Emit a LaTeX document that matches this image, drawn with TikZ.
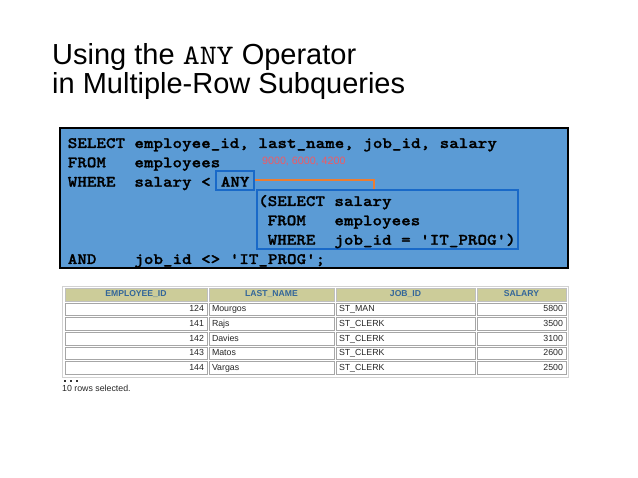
\documentclass[tikz,border=0pt]{standalone}
\usepackage{fontspec}
\setmainfont{Liberation Sans}
\newfontfamily\codefont{lmmono10-regular.otf}[FakeStretch=1.143,BoldFont=lmmonolt10-bold.otf,
    BoldFeatures={FakeBold=1.2}]
\usepackage{xcolor}
\usetikzlibrary{positioning}

\definecolor{boxblue}{RGB}{91,155,213}
\definecolor{linkblue}{RGB}{25,105,200}
\definecolor{linkorange}{RGB}{237,125,49}
\definecolor{listred}{RGB}{240,90,100}
\definecolor{headkhaki}{RGB}{204,204,153}
\definecolor{headblue}{RGB}{51,102,153}

\begin{document}
\begin{tikzpicture}[x=1pt,y=-1pt,
    title/.style={anchor=base west,inner sep=0pt,font=\fontsize{29}{34}\selectfont},
    code/.style={anchor=base west,inner sep=0pt,font=\codefont\bfseries\fontsize{15.9}{19}\selectfont},
    subbox/.style={draw=linkblue,line width=1.8pt,inner sep=0pt},
    link/.style={draw=linkorange,line width=2pt},
    cell/.style={draw=gray!70,fill=white,inner xsep=3pt,inner ysep=0pt,minimum height=12.7pt,
        text height=6.5pt,text depth=1.5pt,font=\fontsize{8.8}{10}\selectfont,text=black!85},
    headcell/.style={cell,fill=headkhaki,draw=gray!50,minimum height=13pt,
        font=\bfseries\fontsize{8.6}{10}\selectfont,text=headblue}]

    \useasboundingbox (0,0) rectangle (638,478);

    \node[title] (t1) at (52,65) {Using the {\codefont\fontsize{28.3}{34}\selectfont ANY} Operator};
    \node[title] (t2) at (52,93.5) {in Multiple-Row Subqueries};

    % query box
    \draw[fill=boxblue,draw=black,line width=2pt] (60,128.5) rectangle (568,268);
    \node[subbox,minimum width=261,minimum height=59] (subq) at (387.5,219.5) {};

    \node[code] (k1) at (67.6,148) {SELECT};
    \node[code] (c1) at (134.2,148) {employee\_id, last\_name, job\_id, salary};
    \node[code] (k2) at (67.6,167.3) {FROM};
    \node[code] (c2) at (134.2,167.3) {employees};
    \node[code] (k3) at (67.6,186.7) {WHERE};
    \node[code] (c3) at (134.2,186.7) {salary <};
    \node[code,draw=linkblue,line width=1.8pt,inner xsep=4.5pt,inner ysep=3pt,
        text height=13pt,text depth=0pt] (any) at (215.4,186.7) {ANY};
    \node[code] (s1) at (258,206) {(SELECT};
    \node[code] (s1b) at (334.2,206) {salary};
    \node[code] (s2) at (267.5,225.3) {FROM};
    \node[code] (s2b) at (334.2,225.3) {employees};
    \node[code] (s3) at (267.5,244.7) {WHERE};
    \node[code] (s3b) at (334.2,244.7) {job\_id = 'IT\_PROG')};
    \node[code] (k4) at (67.6,264) {AND};
    \node[code] (c4) at (134.2,264) {job\_id <> 'IT\_PROG';};

    \node[anchor=base west,inner sep=0pt,text=listred,font=\fontsize{10.7}{12}\selectfont]
        (vals) at (262,165) {9000, 6000, 4200};

    \draw[link] (any.east) -| ([xshift=-13.5pt]subq.north);

    % result table
    \draw[gray!35] (62,286) rectangle (568,377);
    \foreach \lab/\cx/\w [count=\c] in {EMPLOYEE\_ID/136/142,LAST\_NAME/271.5/125,
            JOB\_ID/405.5/139,SALARY/521.5/89}
        \node[headcell,minimum width=\w] (h\c) at (\cx,294.5) {\lab};

    \foreach \id/\name/\job/\sal [count=\r] in {124/Mourgos/ST\_MAN/5800,141/Rajs/ST\_CLERK/3500,
            142/Davies/ST\_CLERK/3100,143/Matos/ST\_CLERK/2600,144/Vargas/ST\_CLERK/2500} {
        \pgfmathsetmacro\ry{303+(\r-1)*14.6+6.35}
        \node[cell,text width=136,align=right] (id\r) at (136,\ry) {\id};
        \node[cell,text width=119,align=left] (nm\r) at (271.5,\ry) {\name};
        \node[cell,text width=133,align=left] (jb\r) at (405.5,\ry) {\job};
        \node[cell,text width=83,align=right] (sl\r) at (521.5,\ry) {\sal};
    }

    \foreach \i in {0,1,2}
        \fill[black!80] (63.5+\i*6,379.8) rectangle ++(2.2,2.2);
    \node[anchor=base west,inner sep=0pt,font=\fontsize{8.8}{10}\selectfont,text=black!85]
        (rows) at (62,391.5) {10 rows selected.};

\end{tikzpicture}
\end{document}
